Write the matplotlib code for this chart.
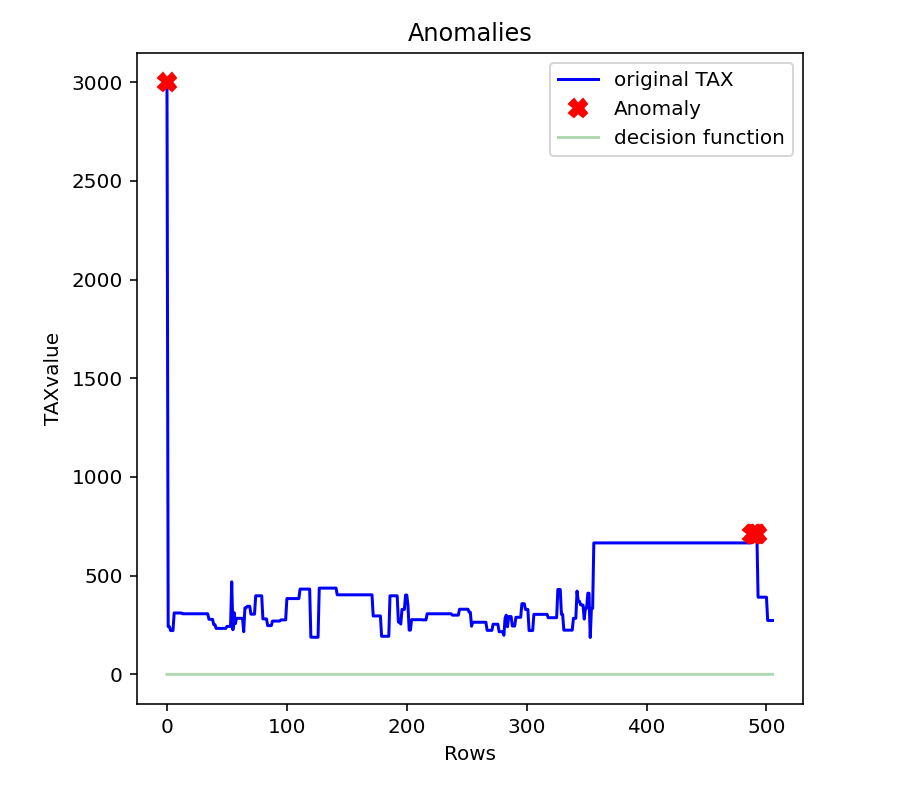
import numpy as np
import matplotlib
matplotlib.use("Agg")
import matplotlib.pyplot as plt

# TAX values as run-length groups (value, number of consecutive rows)
tax_values = [3000, 242, 222, 311, 307, 279, 252, 233, 243, 469, 226, 313, 256, 284, 216,
              337, 345, 305, 398, 281, 247, 270, 276, 384, 432, 188, 437, 403, 296, 193,
              398, 265, 255, 329, 402, 348, 224, 277, 276, 307, 300, 330, 315, 244, 264,
              223, 254, 216, 198, 285, 300, 241, 293, 245, 289, 358, 329, 222, 304, 287,
              430, 304, 224, 284, 422, 370, 352, 351, 280, 335, 411, 187, 334, 666, 711,
              391, 273]
tax_counts = [1, 2, 3, 7, 22, 4, 2, 9, 4, 1, 1, 1, 1, 6, 1,
              2, 3, 4, 6, 4, 4, 7, 5, 11, 9, 7, 15, 30, 7, 7,
              7, 2, 1, 3, 2, 1, 2, 9, 4, 21, 6, 8, 2, 1, 12,
              5, 5, 4, 1, 1, 1, 1, 3, 3, 5, 3, 3, 4, 12, 8,
              3, 2, 8, 3, 1, 2, 2, 1, 1, 2, 2, 1, 2, 132, 5,
              8, 5]

# anomaly rows
anomaly_rows = [0, 488, 489, 490, 491, 492]

# decision function (run-length groups)
decision_values = [-0.22, 0.03, 0.06, 0.04, 0.01, -0.04, 0.02]
decision_counts = [1, 120, 130, 104, 1, 132, 18]

tax = np.repeat(tax_values, tax_counts)
rows = np.arange(len(tax))
decision = np.repeat(decision_values, decision_counts)
anom_vals = tax[anomaly_rows]

fig = plt.figure(figsize=(912 / 144, 792 / 144), dpi=144)
ax = fig.add_axes([0.1499, 0.1111, 0.7303, 0.8224])

ax.plot(rows, tax, color='blue', label='original TAX')
ax.plot(anomaly_rows, anom_vals, linestyle='none', marker='X', color='red',
        markersize=9, label='Anomaly')
ax.plot(np.arange(len(decision)), decision, color='green', alpha=0.3,
        label='decision function')

ax.set_title('Anomalies')
ax.set_xlabel('Rows')
ax.set_ylabel('TAXvalue')
ax.legend(loc='upper right')

fig.savefig('out.png', dpi=144)
